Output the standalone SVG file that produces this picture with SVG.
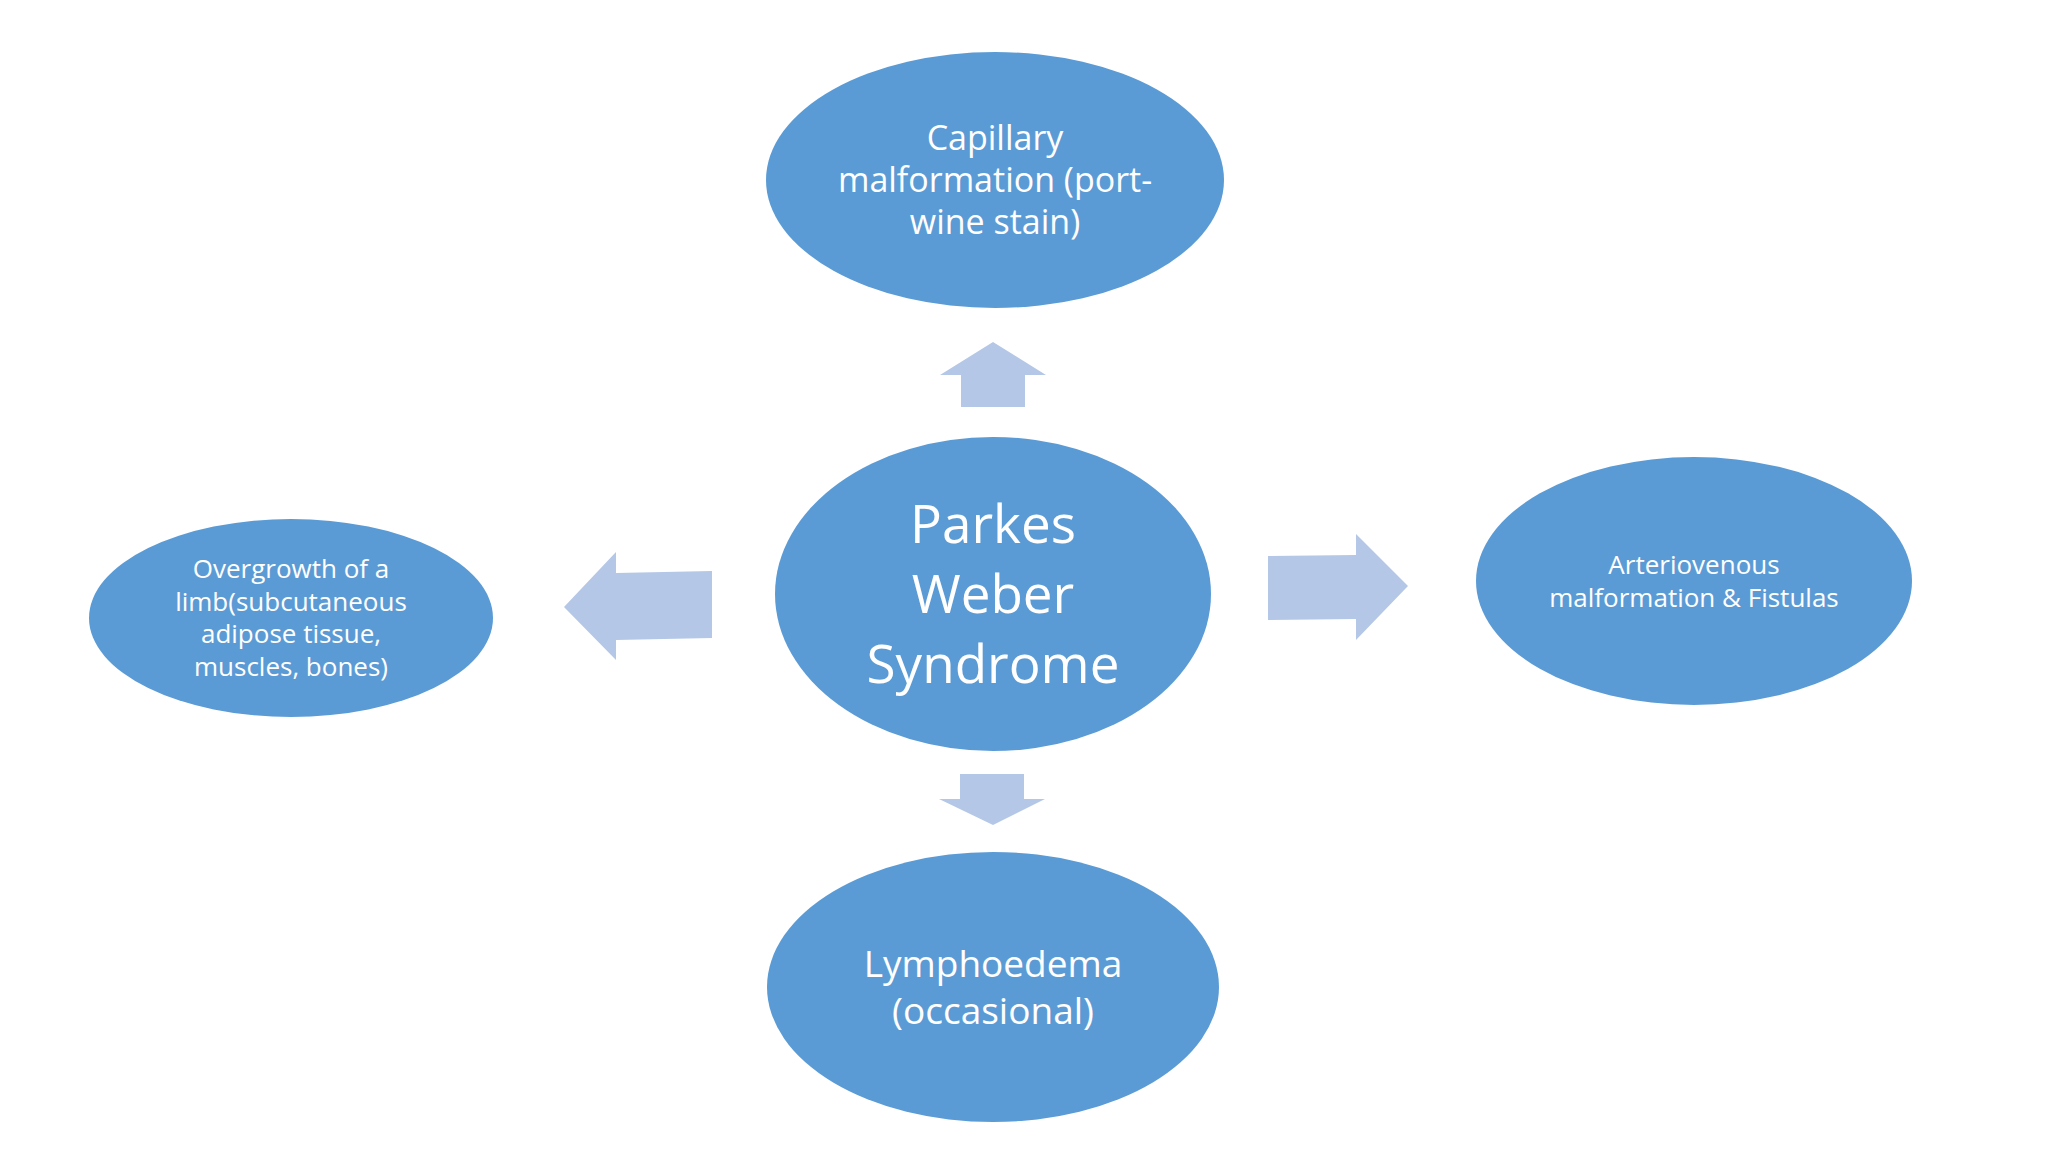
<svg xmlns="http://www.w3.org/2000/svg" width="2048" height="1152" viewBox="0 0 2048 1152">
<style>
.n{fill:#5b9bd5}
.a{fill:#b4c7e7}
text{fill:#fff;font-family:"Open Sans","Noto Sans",sans-serif;text-anchor:middle;dominant-baseline:central}
</style>
<rect width="2048" height="1152" fill="#fff"/>
<g id="connectors">
<polygon class="a" points="993,342 1046,375 1025,375 1025,407 961,407 961,375 940,375"/>
<polygon class="a" points="993,825 1045,799 1024,799 1024,774 960,774 960,799 939,799"/>
<polygon class="a" points="564,607 616,552 616,573 712,571 712,638 616,640 616,660"/>
<polygon class="a" points="1408,586 1356,534 1356,555 1268,556 1268,620 1356,619 1356,640"/>
</g>
<g id="top"><ellipse class="n" cx="995" cy="180" rx="229" ry="128"/>
<text font-size="34"><tspan x="995" y="137">Capillary</tspan><tspan x="995" y="179">malformation (port-</tspan><tspan x="995" y="221">wine stain)</tspan></text></g>
<g id="center"><ellipse class="n" cx="993" cy="594" rx="218" ry="157"/>
<text font-size="53"><tspan x="993" y="522">Parkes</tspan><tspan x="993" y="592">Weber</tspan><tspan x="993" y="662">Syndrome</tspan></text></g>
<g id="left"><ellipse class="n" cx="291" cy="618" rx="202" ry="99"/>
<text font-size="26"><tspan x="291" y="568">Overgrowth of a</tspan><tspan x="291" y="601">limb(subcutaneous</tspan><tspan x="291" y="633">adipose tissue,</tspan><tspan x="291" y="666">muscles, bones)</tspan></text></g>
<g id="right"><ellipse class="n" cx="1694" cy="581" rx="218" ry="124"/>
<text font-size="26"><tspan x="1694" y="564">Arteriovenous</tspan><tspan x="1694" y="597">malformation &amp; Fistulas</tspan></text></g>
<g id="bottom"><ellipse class="n" cx="993" cy="987" rx="226" ry="135"/>
<text font-size="37"><tspan x="993" y="962">Lymphoedema</tspan><tspan x="993" y="1009">(occasional)</tspan></text></g>
</svg>
